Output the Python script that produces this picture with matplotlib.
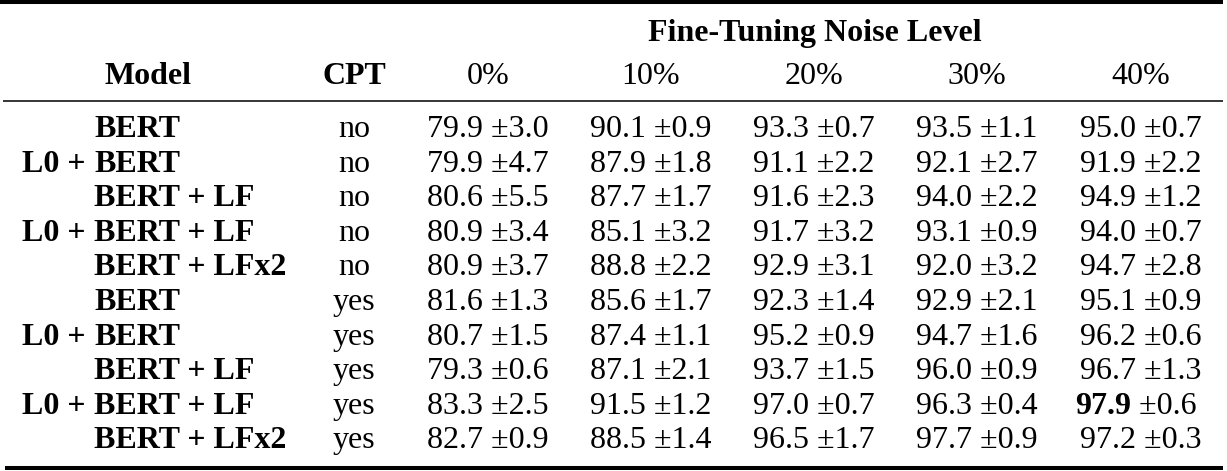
import matplotlib.pyplot as plt

plt.rcParams['font.family'] = ['Liberation Serif', 'DejaVu Serif']

prefixes = ['', 'L0 + ', '', 'L0 + ', '', '', 'L0 + ', '', 'L0 + ', '']
models = ['BERT', 'BERT', 'BERT + LF', 'BERT + LF', 'BERT + LFx2',
          'BERT', 'BERT', 'BERT + LF', 'BERT + LF', 'BERT + LFx2']
cpt = ['no'] * 5 + ['yes'] * 5
noise_levels = ['0%', '10%', '20%', '30%', '40%']
means = [
    [79.9, 90.1, 93.3, 93.5, 95.0],
    [79.9, 87.9, 91.1, 92.1, 91.9],
    [80.6, 87.7, 91.6, 94.0, 94.9],
    [80.9, 85.1, 91.7, 93.1, 94.0],
    [80.9, 88.8, 92.9, 92.0, 94.7],
    [81.6, 85.6, 92.3, 92.9, 95.1],
    [80.7, 87.4, 95.2, 94.7, 96.2],
    [79.3, 87.1, 93.7, 96.0, 96.7],
    [83.3, 91.5, 97.0, 96.3, 97.9],
    [82.7, 88.5, 96.5, 97.7, 97.2],
]
stds = [
    [3.0, 0.9, 0.7, 1.1, 0.7],
    [4.7, 1.8, 2.2, 2.7, 2.2],
    [5.5, 1.7, 2.3, 2.2, 1.2],
    [3.4, 3.2, 3.2, 0.9, 0.7],
    [3.7, 2.2, 3.1, 3.2, 2.8],
    [1.3, 1.7, 1.4, 2.1, 0.9],
    [1.5, 1.1, 0.9, 1.6, 0.6],
    [0.6, 2.1, 1.5, 0.9, 1.3],
    [2.5, 1.2, 0.7, 0.4, 0.6],
    [0.9, 1.4, 1.7, 0.9, 0.3],
]
best = (8, 4)

W, H = 1227, 471
fig = plt.figure(figsize=(W / 100, H / 100), dpi=100)
ax = fig.add_axes([0, 0, 1, 1])
ax.set_xlim(0, W)
ax.set_ylim(H, 0)
ax.axis('off')

fs = 23
model_x = 94
cpt_x = 354
col_x = [488, 651, 814, 977, 1141]
row0 = 137
step = 34.6

# rules
ax.plot([0, 1223], [2, 2], color='black', lw=2.9, solid_capstyle='butt')
ax.plot([3, 1223], [101, 101], color='black', lw=1.1, solid_capstyle='butt')
ax.plot([5, 1223], [468, 468], color='black', lw=2.9, solid_capstyle='butt')

# header
ax.text((col_x[0] + col_x[-1]) / 2, 41, 'Fine-Tuning Noise Level', fontsize=fs,
        fontweight='bold', ha='center', va='baseline')
ax.text(148, 83.5, 'Model', fontsize=fs, fontweight='bold', ha='center', va='baseline')
ax.text(cpt_x, 83.5, 'CPT', fontsize=fs, fontweight='bold', ha='center', va='baseline')
for x, lab in zip(col_x, noise_levels):
    ax.text(x, 83.5, lab, fontsize=fs, ha='center', va='baseline')

# body
for i in range(len(models)):
    y = row0 + i * step
    if prefixes[i]:
        ax.text(model_x, y, prefixes[i], fontsize=fs, fontweight='bold',
                ha='right', va='baseline')
    ax.text(model_x, y, models[i], fontsize=fs, fontweight='bold',
            ha='left', va='baseline')
    ax.text(cpt_x, y, cpt[i], fontsize=fs, ha='center', va='baseline')
    for j in range(len(col_x)):
        if (i, j) == best:
            ax.text(col_x[j] - 10, y, f'{means[i][j]:.1f}', fontsize=fs,
                    fontweight='bold', ha='right', va='baseline')
            ax.text(col_x[j] - 10, y, f' \u00b1{stds[i][j]:.1f}', fontsize=fs,
                    ha='left', va='baseline')
        else:
            ax.text(col_x[j], y, f'{means[i][j]:.1f} \u00b1{stds[i][j]:.1f}',
                    fontsize=fs, ha='center', va='baseline')

fig.savefig('out.png', dpi=100)
